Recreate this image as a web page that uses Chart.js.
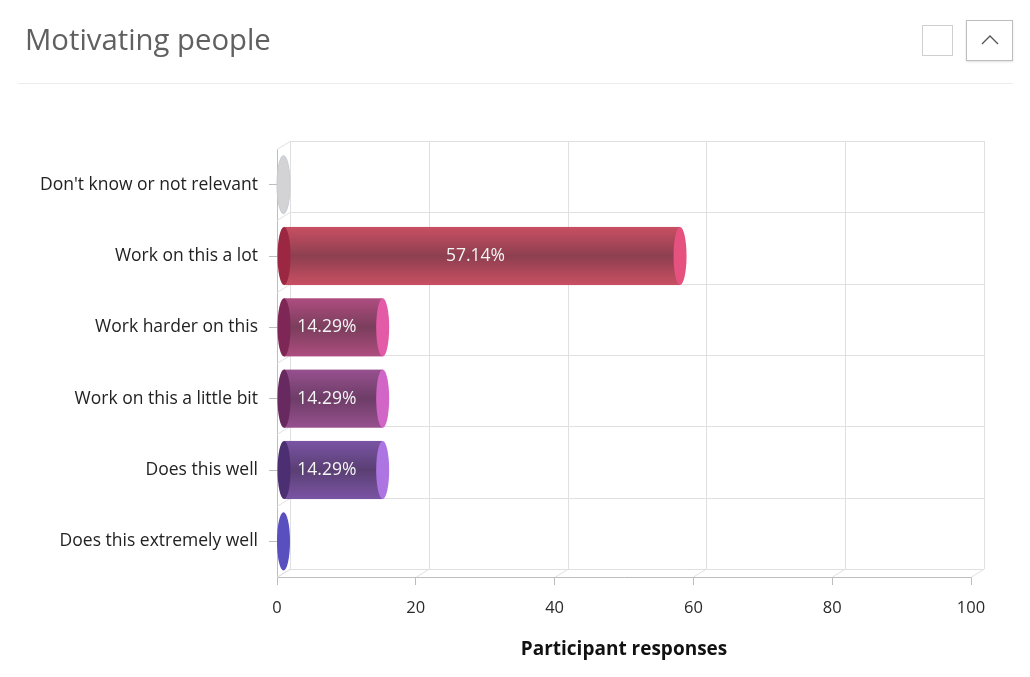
<!DOCTYPE html>
<html>
<head>
<meta charset="utf-8">
<title>Motivating people</title>
<script src="https://cdn.jsdelivr.net/npm/chart.js@4/dist/chart.umd.min.js"></script>
<style>
  body { margin: 0; background: #fff; font-family: "Open Sans", sans-serif; }
  #wrap { position: relative; width: 1030px; height: 677px; overflow: hidden; }
  #graph { position: absolute; left: 0; top: 0; }
  #title { position: absolute; left: 25px; top: 25px; font-size: 29.3px; line-height: 29px; color: #606060; white-space: nowrap; }
  #box1 { position: absolute; left: 922px; top: 25px; width: 29px; height: 29px; border: 1px solid #cfcfcf; }
  #box2 { position: absolute; left: 966px; top: 20px; width: 45px; height: 39px; border: 1px solid #bdbdbd; box-shadow: 0 1px 2px rgba(0,0,0,0.12); }
  #box2 svg { position: absolute; left: 14px; top: 13px; }
  #rule { position: absolute; left: 18px; top: 83px; width: 995px; height: 1px; background: #ececec; }
</style>
</head>
<body>
<div id="wrap">
  <canvas id="graph" width="1030" height="677"></canvas>
  <div id="title">Motivating people</div>
  <div id="box1"></div>
  <div id="box2"><svg width="18" height="12"><polyline points="1,10 9,2 17,10" fill="none" stroke="#555" stroke-width="1.3"/></svg></div>
  <div id="rule"></div>
</div>
<script>
// -------------------------
// DATA
// -------------------------
const categories = [
  "Don't know or not relevant",
  "Work on this a lot",
  "Work harder on this",
  "Work on this a little bit",
  "Does this well",
  "Does this extremely well"
];
const responses = [0, 57.14, 14.29, 14.29, 14.29, 0];
const xTicks = [0, 20, 40, 60, 80, 100];

// cylinder colours, one per row
const endColors = ["#d3d3d5", "#e6527f", "#e35aa6", "#d266c6", "#ad75e2", "#5a4fbf"];
const bodyLight = ["#d3d3d5", "#c94f62", "#ae4d80", "#97508f", "#7a54a4", "#5a4fbf"];
const bodyDark  = ["#b0b0b0", "#8d3f50", "#7b3e5c", "#6d3d67", "#5a3f73", "#4a40a0"];
const startCaps = ["#c0c0c0", "#9b2742", "#7e2756", "#67295f", "#4c2e73", "#4a40a0"];

const DX = 13;   // depth offset of the back wall
const DY = -8;

let chart;

// -------------------------
// 3D WALLS (back grid, floor, side)
// -------------------------
const wall3d = {
  id: "wall3d",
  beforeDatasetsDraw(c) {
    const { ctx, chartArea: a, scales } = c;
    const xs = scales.x;
    const n = categories.length;
    const rowH = (a.bottom - a.top) / n;

    ctx.save();
    ctx.lineWidth = 1;
    ctx.strokeStyle = "#e0e0e0";

    // back vertical lines + floor diagonals
    xTicks.forEach(v => {
      const px = Math.round(xs.getPixelForValue(v)) + 0.5;
      ctx.beginPath();
      ctx.moveTo(px + DX, a.top + DY);
      ctx.lineTo(px + DX, a.bottom + DY);
      ctx.moveTo(px, a.bottom);
      ctx.lineTo(px + DX, a.bottom + DY);
      ctx.stroke();
    });

    // back horizontal lines + side wall diagonals
    for (let i = 0; i <= n; i++) {
      const py = Math.round(a.top + i * rowH) + 0.5;
      ctx.beginPath();
      ctx.moveTo(a.left + DX, py + DY);
      ctx.lineTo(a.right + DX, py + DY);
      ctx.moveTo(a.left, py);
      ctx.lineTo(a.left + DX, py + DY);
      ctx.stroke();
    }
    ctx.restore();
  }
};

// -------------------------
// CYLINDER BARS + VALUE LABELS
// -------------------------
function ellipse(ctx, x, y, rx, ry, fill, stroke) {
  ctx.beginPath();
  ctx.ellipse(x, y, rx, ry, 0, 0, Math.PI * 2);
  ctx.fillStyle = fill;
  ctx.fill();
  if (stroke) {
    ctx.strokeStyle = stroke;
    ctx.lineWidth = 1;
    ctx.stroke();
  }
}

const cylinders = {
  id: "cylinders",
  afterDatasetsDraw(c) {
    const { ctx } = c;
    const meta = c.getDatasetMeta(0);
    const rx = DX / 2;

    ctx.save();
    meta.data.forEach((el, i) => {
      const p = el.getProps(["x", "y", "base", "height"], true);
      const ry = p.height / 2;
      const cy = p.y;
      const x0 = p.base + rx;
      const x1 = p.x + rx;

      if (responses[i] > 0) {
        const g = ctx.createLinearGradient(0, cy - ry, 0, cy + ry);
        g.addColorStop(0, bodyLight[i]);
        g.addColorStop(0.5, bodyDark[i]);
        g.addColorStop(1, bodyLight[i]);
        ctx.fillStyle = g;
        ctx.fillRect(x0, cy - ry, x1 - x0, ry * 2);
        ellipse(ctx, x0, cy, rx, ry, startCaps[i]);
        ellipse(ctx, x1, cy, rx, ry, endColors[i]);

        ctx.fillStyle = "#f4f4f4";
        ctx.font = "17.5px 'Open Sans', sans-serif";
        ctx.textAlign = "center";
        ctx.textBaseline = "middle";
        ctx.fillText(responses[i].toFixed(2) + "%", (p.base + p.x) / 2, cy);
      } else {
        ellipse(ctx, x0, cy, rx, ry, endColors[i], i === 0 ? "#c6ccd3" : null);
      }
    });
    ctx.restore();
  }
};

// -------------------------
// INIT CHART
// -------------------------
function initChart() {
  Chart.defaults.font.family = "'Open Sans', sans-serif";
  const ctx = document.getElementById("graph").getContext("2d");

  chart = new Chart(ctx, {
    type: "bar",
    data: {
      labels: categories,
      datasets: [{
        data: responses,
        backgroundColor: "rgba(0,0,0,0)",
        borderWidth: 0,
        barPercentage: 0.815,
        categoryPercentage: 1
      }]
    },
    options: {
      indexAxis: "y",
      responsive: false,
      animation: false,
      layout: { padding: { top: 149, right: 59, left: 0, bottom: 0 } },
      plugins: {
        legend: { display: false },
        tooltip: { enabled: false }
      },
      scales: {
        x: {
          min: xTicks[0],
          max: xTicks[xTicks.length - 1],
          ticks: { stepSize: xTicks[1] - xTicks[0], padding: 13, color: "#2a2a2a", font: { size: 16.5 } },
          grid: { drawOnChartArea: false, tickLength: 8, color: "#bdbdbd" },
          border: { color: "#bdbdbd" },
          title: {
            display: true,
            text: "Participant responses",
            color: "#111",
            font: { size: 19, weight: "bold" },
            padding: { top: 0, bottom: 16 }
          },
          afterFit: s => { s.height = 100; }
        },
        y: {
          ticks: { padding: 11, color: "#222", font: { size: 17.5 } },
          grid: { offset: false, drawOnChartArea: false, tickLength: 8, color: "#bdbdbd" },
          border: { color: "#bdbdbd" },
          afterFit: s => { s.width = 277; }
        }
      }
    },
    plugins: [wall3d, cylinders]
  });
}

initChart();
</script>
</body>
</html>
